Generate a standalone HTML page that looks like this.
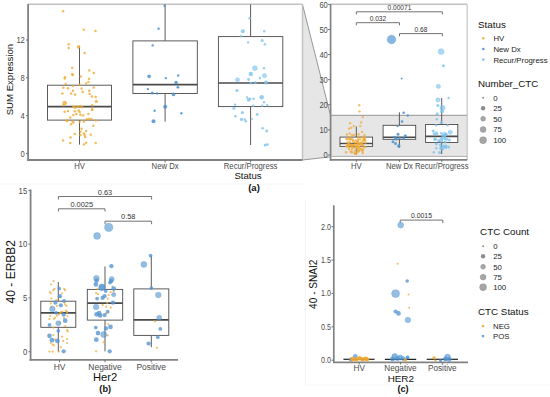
<!DOCTYPE html>
<html><head><meta charset="utf-8"><style>
html,body{margin:0;padding:0;background:#fff;}
body{width:550px;height:397px;overflow:hidden;}
svg{display:block;font-family:"Liberation Sans", sans-serif;}
</style></head><body>
<svg width="550" height="397" viewBox="0 0 550 397">
<rect width="550" height="397" fill="#fff"/>
<line x1="0" y1="184" x2="306" y2="184" stroke="#f6f6f6" stroke-width="1" />
<line x1="305.5" y1="199" x2="305.5" y2="385" stroke="#f4f4f4" stroke-width="1" />
<line x1="305.5" y1="385" x2="550" y2="385" stroke="#f6f6f6" stroke-width="1" />
<polygon points="302.5,4.5 330.5,115.3 330.5,156.8 302.5,160" fill="#E6E6E6" stroke="none" stroke-width="1"/>
<rect x="330.5" y="115.3" width="136.7" height="41.5" fill="#E6E6E6"/>
<line x1="302.5" y1="4.5" x2="330.5" y2="115.3" stroke="#8c8c8c" stroke-width="0.9" />
<line x1="302.5" y1="160" x2="330.5" y2="156.8" stroke="#8c8c8c" stroke-width="0.9" />
<line x1="330.5" y1="115.3" x2="467.2" y2="115.3" stroke="#8c8c8c" stroke-width="0.9" />
<line x1="28.1" y1="4.3" x2="302.5" y2="4.3" stroke="#c2c2c2" stroke-width="1.6" />
<line x1="330.6" y1="4.3" x2="467.2" y2="4.3" stroke="#c2c2c2" stroke-width="1.6" />
<line x1="302.5" y1="4.5" x2="302.5" y2="160" stroke="#c2c2c2" stroke-width="1.5" />
<line x1="467.2" y1="4.5" x2="467.2" y2="160" stroke="#c4c4c4" stroke-width="1.2" />
<line x1="79.5" y1="46.5" x2="79.5" y2="85.2" stroke="#4a4a4a" stroke-width="0.9" />
<line x1="79.5" y1="120.1" x2="79.5" y2="144.6" stroke="#4a4a4a" stroke-width="0.9" />
<rect x="47.5" y="85.2" width="64" height="34.89999999999999" fill="#fff" stroke="#4a4a4a" stroke-width="0.9"/>
<line x1="47.5" y1="106.7" x2="111.5" y2="106.7" stroke="#4a4a4a" stroke-width="1.7" />
<circle cx="63.1" cy="11.3" r="1.25" fill="#EFAA35" fill-opacity="0.8"/>
<circle cx="83.7" cy="29.8" r="1.25" fill="#EFAA35" fill-opacity="0.8"/>
<circle cx="95.5" cy="31" r="1.25" fill="#EFAA35" fill-opacity="0.8"/>
<circle cx="68.7" cy="44.3" r="1.25" fill="#EFAA35" fill-opacity="0.8"/>
<circle cx="68.7" cy="48.1" r="1.25" fill="#EFAA35" fill-opacity="0.8"/>
<circle cx="78.6" cy="46.9" r="1.8" fill="#EFAA35" fill-opacity="0.8"/>
<circle cx="84.6" cy="53" r="1.25" fill="#EFAA35" fill-opacity="0.8"/>
<circle cx="72.2" cy="67.7" r="1.25" fill="#EFAA35" fill-opacity="0.8"/>
<circle cx="89.3" cy="70.4" r="1.25" fill="#EFAA35" fill-opacity="0.8"/>
<circle cx="93.7" cy="73" r="1.25" fill="#EFAA35" fill-opacity="0.8"/>
<circle cx="72.2" cy="74.2" r="1.25" fill="#EFAA35" fill-opacity="0.8"/>
<circle cx="72.8" cy="75" r="1.25" fill="#EFAA35" fill-opacity="0.8"/>
<circle cx="80.8" cy="76.6" r="1.25" fill="#EFAA35" fill-opacity="0.8"/>
<circle cx="65" cy="77.2" r="1.25" fill="#EFAA35" fill-opacity="0.8"/>
<circle cx="64.7" cy="78.4" r="1.25" fill="#EFAA35" fill-opacity="0.8"/>
<circle cx="89" cy="78.7" r="1.25" fill="#EFAA35" fill-opacity="0.8"/>
<circle cx="88.4" cy="82" r="1.25" fill="#EFAA35" fill-opacity="0.8"/>
<circle cx="86.1" cy="83.6" r="1.25" fill="#EFAA35" fill-opacity="0.8"/>
<circle cx="65.7" cy="84" r="1.25" fill="#EFAA35" fill-opacity="0.8"/>
<circle cx="79.6" cy="84.8" r="1.25" fill="#EFAA35" fill-opacity="0.8"/>
<circle cx="63.4" cy="87.8" r="1.25" fill="#EFAA35" fill-opacity="0.8"/>
<circle cx="68" cy="88.3" r="1.25" fill="#EFAA35" fill-opacity="0.8"/>
<circle cx="73" cy="86" r="1.25" fill="#EFAA35" fill-opacity="0.8"/>
<circle cx="81.6" cy="88.6" r="1.25" fill="#EFAA35" fill-opacity="0.8"/>
<circle cx="93.7" cy="87.5" r="1.25" fill="#EFAA35" fill-opacity="0.8"/>
<circle cx="73" cy="90.8" r="1.25" fill="#EFAA35" fill-opacity="0.8"/>
<circle cx="89.2" cy="90.8" r="1.25" fill="#EFAA35" fill-opacity="0.8"/>
<circle cx="82.7" cy="92" r="1.25" fill="#EFAA35" fill-opacity="0.8"/>
<circle cx="62.4" cy="93.6" r="1.25" fill="#EFAA35" fill-opacity="0.8"/>
<circle cx="71" cy="93.6" r="1.25" fill="#EFAA35" fill-opacity="0.8"/>
<circle cx="75.1" cy="94.6" r="1.25" fill="#EFAA35" fill-opacity="0.8"/>
<circle cx="89.6" cy="93.9" r="1.25" fill="#EFAA35" fill-opacity="0.8"/>
<circle cx="91.9" cy="96.4" r="1.25" fill="#EFAA35" fill-opacity="0.8"/>
<circle cx="95.7" cy="96.9" r="1.25" fill="#EFAA35" fill-opacity="0.8"/>
<circle cx="96.3" cy="101.4" r="1.6" fill="#EFAA35" fill-opacity="0.8"/>
<circle cx="64.7" cy="103" r="2.3" fill="#EFAA35" fill-opacity="0.8"/>
<circle cx="63.4" cy="105.2" r="1.25" fill="#EFAA35" fill-opacity="0.8"/>
<circle cx="92.2" cy="105.2" r="1.25" fill="#EFAA35" fill-opacity="0.8"/>
<circle cx="74.8" cy="107.5" r="1.25" fill="#EFAA35" fill-opacity="0.8"/>
<circle cx="80.1" cy="106" r="1.25" fill="#EFAA35" fill-opacity="0.8"/>
<circle cx="82.4" cy="107.2" r="1.25" fill="#EFAA35" fill-opacity="0.8"/>
<circle cx="77.8" cy="106.7" r="1.25" fill="#EFAA35" fill-opacity="0.8"/>
<circle cx="92.2" cy="109.5" r="1.25" fill="#EFAA35" fill-opacity="0.8"/>
<circle cx="73.3" cy="106.8" r="1.25" fill="#EFAA35" fill-opacity="0.8"/>
<circle cx="75.6" cy="107.6" r="1.25" fill="#EFAA35" fill-opacity="0.8"/>
<circle cx="64.7" cy="111.8" r="1.25" fill="#EFAA35" fill-opacity="0.8"/>
<circle cx="68" cy="110.9" r="1.25" fill="#EFAA35" fill-opacity="0.8"/>
<circle cx="74.8" cy="111.3" r="1.25" fill="#EFAA35" fill-opacity="0.8"/>
<circle cx="78.6" cy="110.6" r="1.25" fill="#EFAA35" fill-opacity="0.8"/>
<circle cx="79.6" cy="112.1" r="1.25" fill="#EFAA35" fill-opacity="0.8"/>
<circle cx="92.2" cy="109.8" r="1.25" fill="#EFAA35" fill-opacity="0.8"/>
<circle cx="76.3" cy="113.9" r="1.25" fill="#EFAA35" fill-opacity="0.8"/>
<circle cx="73.3" cy="115.1" r="1.25" fill="#EFAA35" fill-opacity="0.8"/>
<circle cx="80.5" cy="114.8" r="1.25" fill="#EFAA35" fill-opacity="0.8"/>
<circle cx="83.1" cy="115.6" r="1.25" fill="#EFAA35" fill-opacity="0.8"/>
<circle cx="88.4" cy="113.9" r="1.25" fill="#EFAA35" fill-opacity="0.8"/>
<circle cx="70.3" cy="117.4" r="1.25" fill="#EFAA35" fill-opacity="0.8"/>
<circle cx="66.9" cy="120.7" r="1.6" fill="#EFAA35" fill-opacity="0.8"/>
<circle cx="72.5" cy="121.6" r="1.25" fill="#EFAA35" fill-opacity="0.8"/>
<circle cx="73.3" cy="122.4" r="1.25" fill="#EFAA35" fill-opacity="0.8"/>
<circle cx="79.6" cy="121.9" r="1.25" fill="#EFAA35" fill-opacity="0.8"/>
<circle cx="83.9" cy="121.6" r="1.25" fill="#EFAA35" fill-opacity="0.8"/>
<circle cx="86.9" cy="119.2" r="1.25" fill="#EFAA35" fill-opacity="0.8"/>
<circle cx="89.2" cy="118.9" r="1.25" fill="#EFAA35" fill-opacity="0.8"/>
<circle cx="91.4" cy="118.9" r="1.25" fill="#EFAA35" fill-opacity="0.8"/>
<circle cx="96" cy="120.4" r="1.25" fill="#EFAA35" fill-opacity="0.8"/>
<circle cx="71" cy="124.2" r="1.25" fill="#EFAA35" fill-opacity="0.8"/>
<circle cx="93.3" cy="125.7" r="1.25" fill="#EFAA35" fill-opacity="0.8"/>
<circle cx="81.6" cy="128.7" r="1.25" fill="#EFAA35" fill-opacity="0.8"/>
<circle cx="80.5" cy="131.8" r="1.25" fill="#EFAA35" fill-opacity="0.8"/>
<circle cx="86.1" cy="131" r="1.25" fill="#EFAA35" fill-opacity="0.8"/>
<circle cx="74.8" cy="134" r="1.25" fill="#EFAA35" fill-opacity="0.8"/>
<circle cx="83.9" cy="133.6" r="1.25" fill="#EFAA35" fill-opacity="0.8"/>
<circle cx="84.6" cy="135.1" r="1.25" fill="#EFAA35" fill-opacity="0.8"/>
<circle cx="90.7" cy="134.8" r="1.25" fill="#EFAA35" fill-opacity="0.8"/>
<circle cx="80.5" cy="135.1" r="1.25" fill="#EFAA35" fill-opacity="0.8"/>
<circle cx="85.1" cy="137.1" r="1.25" fill="#EFAA35" fill-opacity="0.8"/>
<circle cx="70.6" cy="137.5" r="1.25" fill="#EFAA35" fill-opacity="0.8"/>
<circle cx="63" cy="140.5" r="1.25" fill="#EFAA35" fill-opacity="0.8"/>
<circle cx="70.3" cy="143.1" r="1.25" fill="#EFAA35" fill-opacity="0.8"/>
<circle cx="83.9" cy="144.6" r="1.25" fill="#EFAA35" fill-opacity="0.8"/>
<circle cx="86.1" cy="142.7" r="1.25" fill="#EFAA35" fill-opacity="0.8"/>
<circle cx="95.7" cy="143.1" r="1.25" fill="#EFAA35" fill-opacity="0.8"/>
<line x1="165.1" y1="4.5" x2="165.1" y2="40.9" stroke="#4a4a4a" stroke-width="0.9" />
<line x1="165.1" y1="93.5" x2="165.1" y2="121.7" stroke="#4a4a4a" stroke-width="0.9" />
<rect x="132.89999999999998" y="40.9" width="64.4" height="52.6" fill="#fff" stroke="#4a4a4a" stroke-width="0.9"/>
<line x1="132.89999999999998" y1="84.7" x2="197.3" y2="84.7" stroke="#4a4a4a" stroke-width="1.7" />
<circle cx="164.6" cy="5.7" r="1.2" fill="#4A92D0" fill-opacity="0.85"/>
<circle cx="158.6" cy="28.7" r="1.2" fill="#4A92D0" fill-opacity="0.85"/>
<circle cx="152.7" cy="45.4" r="1.2" fill="#4A92D0" fill-opacity="0.85"/>
<circle cx="149.1" cy="76.4" r="1.8" fill="#4A92D0" fill-opacity="0.85"/>
<circle cx="165.9" cy="78.1" r="1.2" fill="#4A92D0" fill-opacity="0.85"/>
<circle cx="178.2" cy="75.5" r="1.2" fill="#4A92D0" fill-opacity="0.85"/>
<circle cx="176.1" cy="82.6" r="1.8" fill="#4A92D0" fill-opacity="0.85"/>
<circle cx="177.9" cy="87.3" r="1.4" fill="#4A92D0" fill-opacity="0.85"/>
<circle cx="147.9" cy="89.1" r="1.2" fill="#4A92D0" fill-opacity="0.85"/>
<circle cx="152.3" cy="93.1" r="1.5" fill="#4A92D0" fill-opacity="0.85"/>
<circle cx="157.1" cy="93.5" r="1.2" fill="#4A92D0" fill-opacity="0.85"/>
<circle cx="173.5" cy="94.4" r="1.8" fill="#4A92D0" fill-opacity="0.85"/>
<circle cx="165.2" cy="106.7" r="2" fill="#4A92D0" fill-opacity="0.85"/>
<circle cx="154.6" cy="110.7" r="1.2" fill="#4A92D0" fill-opacity="0.85"/>
<circle cx="181.4" cy="113.2" r="1.2" fill="#4A92D0" fill-opacity="0.85"/>
<circle cx="153.5" cy="121.3" r="2" fill="#4A92D0" fill-opacity="0.85"/>
<line x1="250.6" y1="4.5" x2="250.6" y2="36.6" stroke="#4a4a4a" stroke-width="0.9" />
<line x1="250.6" y1="106.6" x2="250.6" y2="145" stroke="#4a4a4a" stroke-width="0.9" />
<rect x="218.39999999999998" y="36.6" width="64.4" height="70.0" fill="#fff" stroke="#4a4a4a" stroke-width="0.9"/>
<line x1="218.39999999999998" y1="83" x2="282.8" y2="83" stroke="#4a4a4a" stroke-width="1.7" />
<circle cx="249.6" cy="18.2" r="1.2" fill="#79C2EE" fill-opacity="0.8"/>
<circle cx="242.8" cy="31.3" r="2" fill="#79C2EE" fill-opacity="0.8"/>
<circle cx="264.2" cy="31.3" r="1.2" fill="#79C2EE" fill-opacity="0.8"/>
<circle cx="241" cy="36.3" r="1.2" fill="#79C2EE" fill-opacity="0.8"/>
<circle cx="248.1" cy="42.4" r="1.2" fill="#79C2EE" fill-opacity="0.8"/>
<circle cx="262.2" cy="40.4" r="1.5" fill="#79C2EE" fill-opacity="0.8"/>
<circle cx="264.8" cy="44.3" r="1.2" fill="#79C2EE" fill-opacity="0.8"/>
<circle cx="254.9" cy="68.2" r="2.4499999999999997" fill="#79C2EE" fill-opacity="0.624" stroke="#79C2EE" stroke-opacity="0.440" stroke-width="0.8"/>
<circle cx="264" cy="68.2" r="1.2" fill="#79C2EE" fill-opacity="0.8"/>
<circle cx="250.8" cy="73.9" r="2.2" fill="#79C2EE" fill-opacity="0.8"/>
<circle cx="264.5" cy="75.7" r="2.15" fill="#79C2EE" fill-opacity="0.624" stroke="#79C2EE" stroke-opacity="0.440" stroke-width="0.8"/>
<circle cx="259.9" cy="78" r="1.2" fill="#79C2EE" fill-opacity="0.8"/>
<circle cx="237.5" cy="79.8" r="2.15" fill="#79C2EE" fill-opacity="0.624" stroke="#79C2EE" stroke-opacity="0.440" stroke-width="0.8"/>
<circle cx="248.6" cy="79.5" r="1.4" fill="#79C2EE" fill-opacity="0.8"/>
<circle cx="250.8" cy="83.3" r="1.2" fill="#79C2EE" fill-opacity="0.8"/>
<circle cx="255.4" cy="82.5" r="1.5" fill="#79C2EE" fill-opacity="0.8"/>
<circle cx="266" cy="82.5" r="2" fill="#79C2EE" fill-opacity="0.8"/>
<circle cx="236.9" cy="90.5" r="1.6" fill="#79C2EE" fill-opacity="0.8"/>
<circle cx="247.1" cy="97.4" r="1.2" fill="#79C2EE" fill-opacity="0.8"/>
<circle cx="248.6" cy="99.9" r="1.8" fill="#79C2EE" fill-opacity="0.8"/>
<circle cx="250.1" cy="98.7" r="1.2" fill="#79C2EE" fill-opacity="0.8"/>
<circle cx="253.6" cy="98.7" r="1.2" fill="#79C2EE" fill-opacity="0.8"/>
<circle cx="261.7" cy="97.2" r="2.2" fill="#79C2EE" fill-opacity="0.8"/>
<circle cx="264" cy="102.2" r="1.2" fill="#79C2EE" fill-opacity="0.8"/>
<circle cx="235" cy="104.8" r="1.2" fill="#79C2EE" fill-opacity="0.8"/>
<circle cx="233.9" cy="108.2" r="1.5" fill="#79C2EE" fill-opacity="0.8"/>
<circle cx="253.1" cy="105.7" r="1.2" fill="#79C2EE" fill-opacity="0.8"/>
<circle cx="262.2" cy="105.7" r="1.2" fill="#79C2EE" fill-opacity="0.8"/>
<circle cx="267.2" cy="105.2" r="1.2" fill="#79C2EE" fill-opacity="0.8"/>
<circle cx="242.5" cy="112.4" r="1.5" fill="#79C2EE" fill-opacity="0.8"/>
<circle cx="235.4" cy="116.2" r="1.3" fill="#79C2EE" fill-opacity="0.8"/>
<circle cx="257.2" cy="114.5" r="1.4" fill="#79C2EE" fill-opacity="0.8"/>
<circle cx="241.5" cy="119.4" r="1.6" fill="#79C2EE" fill-opacity="0.8"/>
<circle cx="244.8" cy="119.4" r="1.2" fill="#79C2EE" fill-opacity="0.8"/>
<circle cx="245.6" cy="121.2" r="1.2" fill="#79C2EE" fill-opacity="0.8"/>
<circle cx="252.1" cy="118.9" r="1" fill="#79C2EE" fill-opacity="0.8"/>
<circle cx="262.6" cy="128.3" r="1.2" fill="#79C2EE" fill-opacity="0.8"/>
<circle cx="266.7" cy="131" r="1.4" fill="#79C2EE" fill-opacity="0.8"/>
<circle cx="265.2" cy="145.1" r="1.5" fill="#79C2EE" fill-opacity="0.8"/>
<circle cx="267.5" cy="144.6" r="1.3" fill="#79C2EE" fill-opacity="0.8"/>
<line x1="28.1" y1="4" x2="28.1" y2="160.8" stroke="#828282" stroke-width="1.8" />
<line x1="27.2" y1="160" x2="302.5" y2="160" stroke="#828282" stroke-width="1.8" />
<line x1="26" y1="153.4" x2="28.1" y2="153.4" stroke="#737373" stroke-width="1" />
<text transform="translate(24.8 156.5) scale(0.88 1)" font-size="8.6" fill="#4a4a4a" text-anchor="end">0</text>
<line x1="26" y1="115.6" x2="28.1" y2="115.6" stroke="#737373" stroke-width="1" />
<text transform="translate(24.8 118.69999999999999) scale(0.88 1)" font-size="8.6" fill="#4a4a4a" text-anchor="end">4</text>
<line x1="26" y1="77.8" x2="28.1" y2="77.8" stroke="#737373" stroke-width="1" />
<text transform="translate(24.8 80.89999999999999) scale(0.88 1)" font-size="8.6" fill="#4a4a4a" text-anchor="end">8</text>
<line x1="26" y1="40" x2="28.1" y2="40" stroke="#737373" stroke-width="1" />
<text transform="translate(24.8 43.1) scale(0.88 1)" font-size="8.6" fill="#4a4a4a" text-anchor="end">12</text>
<line x1="79.5" y1="160" x2="79.5" y2="162.5" stroke="#737373" stroke-width="1" />
<text transform="translate(79.5 169.2) scale(0.92 1)" font-size="8.4" fill="#4a4a4a" text-anchor="middle">HV</text>
<line x1="165.1" y1="160" x2="165.1" y2="162.5" stroke="#737373" stroke-width="1" />
<text transform="translate(165.1 169.2) scale(0.92 1)" font-size="8.4" fill="#4a4a4a" text-anchor="middle">New Dx</text>
<line x1="250.6" y1="160" x2="250.6" y2="162.5" stroke="#737373" stroke-width="1" />
<text transform="translate(250.6 169.2) scale(0.92 1)" font-size="8.4" fill="#4a4a4a" text-anchor="middle">Recur/Progress</text>
<text x="12.9" y="79.6" font-size="9.6" fill="#111" text-anchor="middle" font-weight="normal" transform="rotate(-90 12.9 79.6)">SUM Expression</text>
<text x="248" y="179.1" font-size="9.6" fill="#111" text-anchor="middle" font-weight="normal">Status</text>
<text x="254" y="191" font-size="9.5" fill="#111" text-anchor="middle" font-weight="bold">(a)</text>
<line x1="356.3" y1="126.5" x2="356.3" y2="137.1" stroke="#4a4a4a" stroke-width="0.9" />
<line x1="356.3" y1="146.4" x2="356.3" y2="154.5" stroke="#4a4a4a" stroke-width="0.9" />
<rect x="340.0" y="137.1" width="32.6" height="9.300000000000011" fill="#fff" stroke="#4a4a4a" stroke-width="0.9"/>
<line x1="340.0" y1="143.4" x2="372.6" y2="143.4" stroke="#4a4a4a" stroke-width="1.5" />
<circle cx="359.2" cy="105.2" r="1.2" fill="#EFAA35" fill-opacity="0.75"/>
<circle cx="359.5" cy="111.4" r="1.2" fill="#EFAA35" fill-opacity="0.75"/>
<circle cx="362.8" cy="117.1" r="1.2" fill="#EFAA35" fill-opacity="0.75"/>
<circle cx="350" cy="123.2" r="1.2" fill="#EFAA35" fill-opacity="0.75"/>
<circle cx="353.8" cy="126.1" r="1.2" fill="#EFAA35" fill-opacity="0.75"/>
<circle cx="361.1" cy="122.5" r="1.2" fill="#EFAA35" fill-opacity="0.75"/>
<circle cx="360.3" cy="126.1" r="1.2" fill="#EFAA35" fill-opacity="0.75"/>
<circle cx="348.9" cy="128.6" r="1.2" fill="#EFAA35" fill-opacity="0.75"/>
<circle cx="351.3" cy="127.8" r="1.2" fill="#EFAA35" fill-opacity="0.75"/>
<circle cx="349.7" cy="133.5" r="1.2" fill="#EFAA35" fill-opacity="0.75"/>
<circle cx="352.1" cy="135.2" r="1.2" fill="#EFAA35" fill-opacity="0.75"/>
<circle cx="358.7" cy="134.3" r="1.2" fill="#EFAA35" fill-opacity="0.75"/>
<circle cx="362" cy="131.9" r="1.2" fill="#EFAA35" fill-opacity="0.75"/>
<circle cx="364.4" cy="135.2" r="1.2" fill="#EFAA35" fill-opacity="0.75"/>
<circle cx="350.64031022829187" cy="139.3404981155504" r="1.2" fill="#EFAA35" fill-opacity="0.75"/>
<circle cx="357.7764407526258" cy="142.3133668894775" r="1.2" fill="#EFAA35" fill-opacity="0.75"/>
<circle cx="358.20154593010705" cy="144.17146614536537" r="1.2" fill="#EFAA35" fill-opacity="0.75"/>
<circle cx="362.330647100881" cy="143.79322222722004" r="1.2" fill="#EFAA35" fill-opacity="0.75"/>
<circle cx="351.05740327939617" cy="144.9584896485683" r="1.2" fill="#EFAA35" fill-opacity="0.75"/>
<circle cx="355.1701383966877" cy="153.5" r="1.2" fill="#EFAA35" fill-opacity="0.75"/>
<circle cx="362.31099829985055" cy="137.14643637947282" r="1.2" fill="#EFAA35" fill-opacity="0.75"/>
<circle cx="348.9370202684587" cy="144.45100268351842" r="1.2" fill="#EFAA35" fill-opacity="0.75"/>
<circle cx="358.37978283656116" cy="147.19979524600794" r="1.2" fill="#EFAA35" fill-opacity="0.75"/>
<circle cx="360.4544111959291" cy="139.4618599868359" r="1.2" fill="#EFAA35" fill-opacity="0.75"/>
<circle cx="359.09252376970704" cy="150.4774572950503" r="1.2" fill="#EFAA35" fill-opacity="0.75"/>
<circle cx="357.5264418671607" cy="146.4691331867224" r="1.2" fill="#EFAA35" fill-opacity="0.75"/>
<circle cx="351.8747193605564" cy="152.3437881351424" r="1.2" fill="#EFAA35" fill-opacity="0.75"/>
<circle cx="355.2186072289766" cy="145.24538031910637" r="1.2" fill="#EFAA35" fill-opacity="0.75"/>
<circle cx="360.01706651928316" cy="148.65479050992758" r="1.2" fill="#EFAA35" fill-opacity="0.75"/>
<circle cx="363.9614240178856" cy="138.5864579601656" r="1.2" fill="#EFAA35" fill-opacity="0.75"/>
<circle cx="353.7017863780145" cy="145.03460270801966" r="1.2" fill="#EFAA35" fill-opacity="0.75"/>
<circle cx="364.24394107323815" cy="138.8671572992283" r="1.2" fill="#EFAA35" fill-opacity="0.75"/>
<circle cx="363.1378998765918" cy="145.49086613138536" r="1.2" fill="#EFAA35" fill-opacity="0.75"/>
<circle cx="350.23124535404617" cy="144.8983504772857" r="1.2" fill="#EFAA35" fill-opacity="0.75"/>
<circle cx="364.82686270851497" cy="137.6845659143442" r="1.2" fill="#EFAA35" fill-opacity="0.75"/>
<circle cx="351.87001086929735" cy="145.9663168763218" r="1.2" fill="#EFAA35" fill-opacity="0.75"/>
<circle cx="355.89123818466663" cy="140.34673598991228" r="1.2" fill="#EFAA35" fill-opacity="0.75"/>
<circle cx="357.4089450944046" cy="146.24961895693966" r="1.2" fill="#EFAA35" fill-opacity="0.75"/>
<circle cx="357.3929099629189" cy="149.11451949980292" r="1.2" fill="#EFAA35" fill-opacity="0.75"/>
<circle cx="364.1144392234003" cy="139.64307070388864" r="1.2" fill="#EFAA35" fill-opacity="0.75"/>
<circle cx="362.69981104473675" cy="150.2017294035386" r="1.2" fill="#EFAA35" fill-opacity="0.75"/>
<circle cx="349.18044262843586" cy="143.1201842234085" r="1.2" fill="#EFAA35" fill-opacity="0.75"/>
<circle cx="362.7824318957672" cy="153.01726707507305" r="1.2" fill="#EFAA35" fill-opacity="0.75"/>
<circle cx="357.0975963177493" cy="141.34958086695642" r="1.2" fill="#EFAA35" fill-opacity="0.75"/>
<circle cx="359.9194318933969" cy="145.55418192510527" r="1.2" fill="#EFAA35" fill-opacity="0.75"/>
<circle cx="357.18388087085003" cy="151.74193409099746" r="1.2" fill="#EFAA35" fill-opacity="0.75"/>
<circle cx="351.556670508731" cy="151.6343472464852" r="1.2" fill="#EFAA35" fill-opacity="0.75"/>
<circle cx="365.30121729097084" cy="146.92701985412276" r="1.2" fill="#EFAA35" fill-opacity="0.75"/>
<circle cx="347.7261028156397" cy="144.9459918682271" r="1.2" fill="#EFAA35" fill-opacity="0.75"/>
<circle cx="348.93992480182976" cy="139.10569144314326" r="1.2" fill="#EFAA35" fill-opacity="0.75"/>
<circle cx="351.7308793129717" cy="144.57642723357642" r="1.2" fill="#EFAA35" fill-opacity="0.75"/>
<circle cx="346.8617061920261" cy="134.42577336768417" r="1.2" fill="#EFAA35" fill-opacity="0.75"/>
<circle cx="357.9833843063703" cy="150.38078092569273" r="1.2" fill="#EFAA35" fill-opacity="0.75"/>
<circle cx="352.4536058473706" cy="145.4962504337832" r="1.2" fill="#EFAA35" fill-opacity="0.75"/>
<circle cx="363.1776534913235" cy="148.80036648244928" r="1.2" fill="#EFAA35" fill-opacity="0.75"/>
<circle cx="365.4709244348276" cy="142.85190788712012" r="1.2" fill="#EFAA35" fill-opacity="0.75"/>
<circle cx="352.0385660427886" cy="148.8914103751083" r="1.2" fill="#EFAA35" fill-opacity="0.75"/>
<circle cx="346.6118663624187" cy="146.33168859804258" r="1.2" fill="#EFAA35" fill-opacity="0.75"/>
<circle cx="349.84900470035416" cy="138.32602260512488" r="1.2" fill="#EFAA35" fill-opacity="0.75"/>
<circle cx="349.04588032476454" cy="146.87840817237176" r="1.2" fill="#EFAA35" fill-opacity="0.75"/>
<circle cx="346.82749858206347" cy="146.13356340659303" r="1.2" fill="#EFAA35" fill-opacity="0.75"/>
<circle cx="364.69385881496487" cy="140.61592577302136" r="1.2" fill="#EFAA35" fill-opacity="0.75"/>
<circle cx="363.4848630078382" cy="139.9040385351785" r="1.2" fill="#EFAA35" fill-opacity="0.75"/>
<circle cx="356.141423199555" cy="146.97207919152714" r="1.2" fill="#EFAA35" fill-opacity="0.75"/>
<circle cx="358.5558300085607" cy="138.74898568906752" r="1.2" fill="#EFAA35" fill-opacity="0.75"/>
<circle cx="358.0924596411826" cy="140.24275936678066" r="1.2" fill="#EFAA35" fill-opacity="0.75"/>
<circle cx="364.3421144807673" cy="138.72443151932498" r="1.2" fill="#EFAA35" fill-opacity="0.75"/>
<circle cx="360.0460694168107" cy="143.2890177881478" r="1.2" fill="#EFAA35" fill-opacity="0.75"/>
<circle cx="350.6338945795633" cy="139.58208177648808" r="1.2" fill="#EFAA35" fill-opacity="0.75"/>
<circle cx="356.1619822189835" cy="153.5" r="1.2" fill="#EFAA35" fill-opacity="0.75"/>
<circle cx="356.6943941198938" cy="148.1492968491355" r="1.2" fill="#EFAA35" fill-opacity="0.75"/>
<circle cx="357.3093216690428" cy="143.83527999716208" r="1.2" fill="#EFAA35" fill-opacity="0.75"/>
<circle cx="346.3910313609397" cy="138.7470949740011" r="1.2" fill="#EFAA35" fill-opacity="0.75"/>
<circle cx="347.1715699572406" cy="139.26721165349844" r="1.2" fill="#EFAA35" fill-opacity="0.75"/>
<circle cx="358.2331516257136" cy="136.8655386457602" r="1.2" fill="#EFAA35" fill-opacity="0.75"/>
<circle cx="352.87525116930044" cy="144.9283434155348" r="1.2" fill="#EFAA35" fill-opacity="0.75"/>
<circle cx="359.78552986263503" cy="143.42840666408827" r="1.2" fill="#EFAA35" fill-opacity="0.75"/>
<circle cx="347.18124767109305" cy="142.54953774782038" r="1.2" fill="#EFAA35" fill-opacity="0.75"/>
<circle cx="359.1823960350039" cy="146.8316908472863" r="1.2" fill="#EFAA35" fill-opacity="0.75"/>
<circle cx="354.8980865279094" cy="142.71794601088152" r="1.2" fill="#EFAA35" fill-opacity="0.75"/>
<circle cx="357.5571015754965" cy="141.67668439636952" r="1.2" fill="#EFAA35" fill-opacity="0.75"/>
<circle cx="352.09707789333976" cy="147.373139219947" r="1.2" fill="#EFAA35" fill-opacity="0.75"/>
<circle cx="353.1985025179006" cy="140.36234353852154" r="1.2" fill="#EFAA35" fill-opacity="0.75"/>
<circle cx="353.3546266559139" cy="141.3496914986816" r="1.2" fill="#EFAA35" fill-opacity="0.75"/>
<circle cx="361.05933154266035" cy="149.2571044007581" r="1.2" fill="#EFAA35" fill-opacity="0.75"/>
<circle cx="360.33587704273094" cy="144.48321469762615" r="1.2" fill="#EFAA35" fill-opacity="0.75"/>
<circle cx="352.0453255604968" cy="144.8944405536121" r="1.2" fill="#EFAA35" fill-opacity="0.75"/>
<circle cx="350.65455594950794" cy="151.5010160949565" r="1.2" fill="#EFAA35" fill-opacity="0.75"/>
<circle cx="349.65418964789984" cy="137.1044672656877" r="1.2" fill="#EFAA35" fill-opacity="0.75"/>
<circle cx="347.9859130063215" cy="146.25642198322274" r="1.2" fill="#EFAA35" fill-opacity="0.75"/>
<circle cx="352.27833670011466" cy="139.21976706449948" r="1.2" fill="#EFAA35" fill-opacity="0.75"/>
<circle cx="354.54939928494707" cy="150.86857150326097" r="1.2" fill="#EFAA35" fill-opacity="0.75"/>
<circle cx="362.68293628270527" cy="145.48045965100908" r="1.2" fill="#EFAA35" fill-opacity="0.75"/>
<circle cx="358.6795313377037" cy="147.0643771629409" r="1.2" fill="#EFAA35" fill-opacity="0.75"/>
<circle cx="363.25551630246514" cy="140.43727160430905" r="1.2" fill="#EFAA35" fill-opacity="0.75"/>
<circle cx="348.3579268318506" cy="144.47174375075952" r="1.2" fill="#EFAA35" fill-opacity="0.75"/>
<circle cx="356.32773875201366" cy="146.46538052872555" r="1.2" fill="#EFAA35" fill-opacity="0.75"/>
<circle cx="362.3502893910504" cy="151.10164034612876" r="1.2" fill="#EFAA35" fill-opacity="0.75"/>
<circle cx="349.5799331094525" cy="142.0409777464566" r="1.2" fill="#EFAA35" fill-opacity="0.75"/>
<circle cx="358.51777650168475" cy="151.5339237439671" r="1.2" fill="#EFAA35" fill-opacity="0.75"/>
<circle cx="361.72202790213356" cy="142.16334209310855" r="1.2" fill="#EFAA35" fill-opacity="0.75"/>
<circle cx="351.6928863719758" cy="145.45933426962918" r="1.2" fill="#EFAA35" fill-opacity="0.75"/>
<circle cx="361.4803075274412" cy="142.94953479899252" r="1.2" fill="#EFAA35" fill-opacity="0.75"/>
<circle cx="354.12966106953303" cy="147.61304929108755" r="1.2" fill="#EFAA35" fill-opacity="0.75"/>
<circle cx="354.18553808392943" cy="134.9638636738783" r="1.2" fill="#EFAA35" fill-opacity="0.75"/>
<circle cx="349.041958249298" cy="148.95321907302554" r="1.2" fill="#EFAA35" fill-opacity="0.75"/>
<circle cx="346.09090499437133" cy="152.18375647408823" r="1.2" fill="#EFAA35" fill-opacity="0.75"/>
<circle cx="365.24481627306153" cy="140.26647138505163" r="1.2" fill="#EFAA35" fill-opacity="0.75"/>
<circle cx="354.4698700971752" cy="153.3046544542345" r="1.2" fill="#EFAA35" fill-opacity="0.75"/>
<line x1="399.4" y1="112.3" x2="399.4" y2="125.3" stroke="#4a4a4a" stroke-width="0.9" />
<line x1="399.4" y1="139.3" x2="399.4" y2="147.5" stroke="#4a4a4a" stroke-width="0.9" />
<rect x="383.09999999999997" y="125.3" width="32.6" height="14.000000000000014" fill="#fff" stroke="#4a4a4a" stroke-width="0.9"/>
<line x1="383.09999999999997" y1="137.3" x2="415.7" y2="137.3" stroke="#4a4a4a" stroke-width="1.5" />
<circle cx="391.5" cy="39.5" r="4.25" fill="#4A92D0" fill-opacity="0.663" stroke="#4A92D0" stroke-opacity="0.468" stroke-width="0.8"/>
<circle cx="401.7" cy="78.5" r="1" fill="#4A92D0" fill-opacity="0.85"/>
<circle cx="403.7" cy="112.7" r="1.3" fill="#4A92D0" fill-opacity="0.85"/>
<circle cx="407.8" cy="115.5" r="1.2" fill="#4A92D0" fill-opacity="0.85"/>
<circle cx="402" cy="121.6" r="1.3" fill="#4A92D0" fill-opacity="0.85"/>
<circle cx="397.6" cy="126.1" r="1.2" fill="#4A92D0" fill-opacity="0.85"/>
<circle cx="398" cy="134.3" r="1.5" fill="#4A92D0" fill-opacity="0.85"/>
<circle cx="394.7" cy="137.3" r="1.5" fill="#4A92D0" fill-opacity="0.85"/>
<circle cx="396.3" cy="138.9" r="1.5" fill="#4A92D0" fill-opacity="0.85"/>
<circle cx="399.6" cy="138" r="1.3" fill="#4A92D0" fill-opacity="0.85"/>
<circle cx="403.7" cy="138.4" r="1.5" fill="#4A92D0" fill-opacity="0.85"/>
<circle cx="405.3" cy="135.7" r="1.5" fill="#4A92D0" fill-opacity="0.85"/>
<circle cx="393" cy="141.7" r="1.5" fill="#4A92D0" fill-opacity="0.85"/>
<circle cx="395.5" cy="143.4" r="1.5" fill="#4A92D0" fill-opacity="0.85"/>
<circle cx="398.8" cy="146.1" r="1.8" fill="#4A92D0" fill-opacity="0.85"/>
<line x1="441.7" y1="98" x2="441.7" y2="124.5" stroke="#4a4a4a" stroke-width="0.9" />
<line x1="441.7" y1="142.5" x2="441.7" y2="154" stroke="#4a4a4a" stroke-width="0.9" />
<rect x="425.59999999999997" y="124.5" width="32.2" height="18.0" fill="#fff" stroke="#4a4a4a" stroke-width="0.9"/>
<line x1="425.59999999999997" y1="136.4" x2="457.8" y2="136.4" stroke="#4a4a4a" stroke-width="1.7" />
<circle cx="441.1" cy="51.6" r="2.9499999999999997" fill="#79C2EE" fill-opacity="0.624" stroke="#79C2EE" stroke-opacity="0.440" stroke-width="0.8"/>
<circle cx="443.4" cy="65.7" r="1.5" fill="#79C2EE" fill-opacity="0.8"/>
<circle cx="438.4" cy="86.4" r="2.15" fill="#79C2EE" fill-opacity="0.624" stroke="#79C2EE" stroke-opacity="0.440" stroke-width="0.8"/>
<circle cx="437.9" cy="99.9" r="2.15" fill="#79C2EE" fill-opacity="0.624" stroke="#79C2EE" stroke-opacity="0.440" stroke-width="0.8"/>
<circle cx="448.6" cy="98" r="1.2" fill="#79C2EE" fill-opacity="0.8"/>
<circle cx="442.5" cy="107.8" r="2.65" fill="#79C2EE" fill-opacity="0.624" stroke="#79C2EE" stroke-opacity="0.440" stroke-width="0.8"/>
<circle cx="437.9" cy="105.6" r="1.5" fill="#79C2EE" fill-opacity="0.8"/>
<circle cx="442" cy="111.4" r="2" fill="#79C2EE" fill-opacity="0.8"/>
<circle cx="437.1" cy="113.8" r="1.5" fill="#79C2EE" fill-opacity="0.8"/>
<circle cx="436.8" cy="119.2" r="1.2" fill="#79C2EE" fill-opacity="0.8"/>
<circle cx="441.2" cy="122.5" r="1.5" fill="#79C2EE" fill-opacity="0.8"/>
<circle cx="436.3" cy="125.3" r="1.2" fill="#79C2EE" fill-opacity="0.8"/>
<circle cx="447.7" cy="125.3" r="1.2" fill="#79C2EE" fill-opacity="0.8"/>
<circle cx="436.3" cy="133.5" r="2" fill="#79C2EE" fill-opacity="0.8"/>
<circle cx="444.5" cy="134.3" r="2.15" fill="#79C2EE" fill-opacity="0.624" stroke="#79C2EE" stroke-opacity="0.440" stroke-width="0.8"/>
<circle cx="450.2" cy="132.3" r="2.15" fill="#79C2EE" fill-opacity="0.624" stroke="#79C2EE" stroke-opacity="0.440" stroke-width="0.8"/>
<circle cx="434.6" cy="139.2" r="1.5" fill="#79C2EE" fill-opacity="0.8"/>
<circle cx="438.7" cy="140.8" r="1.5" fill="#79C2EE" fill-opacity="0.8"/>
<circle cx="442" cy="138.4" r="1.5" fill="#79C2EE" fill-opacity="0.8"/>
<circle cx="446.9" cy="139.2" r="1.5" fill="#79C2EE" fill-opacity="0.8"/>
<circle cx="449.4" cy="140" r="1.5" fill="#79C2EE" fill-opacity="0.8"/>
<circle cx="436.3" cy="144.1" r="1.5" fill="#79C2EE" fill-opacity="0.8"/>
<circle cx="440.4" cy="144.9" r="1.5" fill="#79C2EE" fill-opacity="0.8"/>
<circle cx="446.1" cy="145.7" r="1.2" fill="#79C2EE" fill-opacity="0.8"/>
<circle cx="448.5" cy="147" r="1.5" fill="#79C2EE" fill-opacity="0.8"/>
<circle cx="436.3" cy="148.2" r="1.2" fill="#79C2EE" fill-opacity="0.8"/>
<circle cx="446.1" cy="147.7" r="1.2" fill="#79C2EE" fill-opacity="0.8"/>
<circle cx="433.8" cy="152.3" r="1.2" fill="#79C2EE" fill-opacity="0.8"/>
<circle cx="439.5" cy="152.6" r="1.5" fill="#79C2EE" fill-opacity="0.8"/>
<circle cx="441.04759107019635" cy="140.5540820380929" r="2.2" fill="#79C2EE" fill-opacity="0.8"/>
<circle cx="441.0366464119913" cy="148.2311865335107" r="1.5" fill="#79C2EE" fill-opacity="0.8"/>
<circle cx="435.6932068770975" cy="139.30962461508693" r="1.5" fill="#79C2EE" fill-opacity="0.8"/>
<circle cx="433.88246912458436" cy="133.88843282823765" r="1.2" fill="#79C2EE" fill-opacity="0.8"/>
<circle cx="442.7738701715536" cy="149.14989279232472" r="1.2" fill="#79C2EE" fill-opacity="0.8"/>
<circle cx="443.9087301168134" cy="136.3001593879141" r="2.2" fill="#79C2EE" fill-opacity="0.8"/>
<circle cx="445.07845067067683" cy="142.00463031904283" r="1.5" fill="#79C2EE" fill-opacity="0.8"/>
<circle cx="444.4625690303744" cy="147.62424225909942" r="1.2" fill="#79C2EE" fill-opacity="0.8"/>
<circle cx="433.1910221033771" cy="130.94541483274617" r="1.5" fill="#79C2EE" fill-opacity="0.8"/>
<circle cx="443.992361699057" cy="146.2308185701243" r="1.8" fill="#79C2EE" fill-opacity="0.8"/>
<circle cx="440.81062233313315" cy="147.90310534148182" r="1.5" fill="#79C2EE" fill-opacity="0.8"/>
<circle cx="444.80583415838356" cy="138.99410195737659" r="1.2" fill="#79C2EE" fill-opacity="0.8"/>
<circle cx="441.14659763199114" cy="133.23223539126104" r="1.2" fill="#79C2EE" fill-opacity="0.8"/>
<circle cx="446.156192429959" cy="134.1972076424043" r="1.5" fill="#79C2EE" fill-opacity="0.8"/>
<line x1="330.6" y1="4" x2="330.6" y2="160.8" stroke="#828282" stroke-width="1.7" />
<line x1="329.8" y1="159.9" x2="467.2" y2="159.9" stroke="#828282" stroke-width="1.7" />
<line x1="330.5" y1="156.4" x2="467.2" y2="156.4" stroke="#a8a8a8" stroke-width="0.9" />
<line x1="328" y1="155.0" x2="330.5" y2="155.0" stroke="#737373" stroke-width="1" />
<text transform="translate(327.8 158.1) scale(0.88 1)" font-size="8.6" fill="#4a4a4a" text-anchor="end">0</text>
<line x1="328" y1="129.9" x2="330.5" y2="129.9" stroke="#737373" stroke-width="1" />
<text transform="translate(327.8 133.0) scale(0.88 1)" font-size="8.6" fill="#4a4a4a" text-anchor="end">10</text>
<line x1="328" y1="104.80000000000001" x2="330.5" y2="104.80000000000001" stroke="#737373" stroke-width="1" />
<text transform="translate(327.8 107.9) scale(0.88 1)" font-size="8.6" fill="#4a4a4a" text-anchor="end">20</text>
<line x1="328" y1="79.7" x2="330.5" y2="79.7" stroke="#737373" stroke-width="1" />
<text transform="translate(327.8 82.8) scale(0.88 1)" font-size="8.6" fill="#4a4a4a" text-anchor="end">30</text>
<line x1="328" y1="54.60000000000001" x2="330.5" y2="54.60000000000001" stroke="#737373" stroke-width="1" />
<text transform="translate(327.8 57.70000000000001) scale(0.88 1)" font-size="8.6" fill="#4a4a4a" text-anchor="end">40</text>
<line x1="328" y1="29.500000000000014" x2="330.5" y2="29.500000000000014" stroke="#737373" stroke-width="1" />
<text transform="translate(327.8 32.600000000000016) scale(0.88 1)" font-size="8.6" fill="#4a4a4a" text-anchor="end">50</text>
<line x1="328" y1="4.400000000000006" x2="330.5" y2="4.400000000000006" stroke="#737373" stroke-width="1" />
<text transform="translate(327.8 7.500000000000005) scale(0.88 1)" font-size="8.6" fill="#4a4a4a" text-anchor="end">60</text>
<line x1="356.3" y1="159.9" x2="356.3" y2="162" stroke="#737373" stroke-width="1" />
<text transform="translate(356.3 168.9) scale(0.92 1)" font-size="8.4" fill="#4a4a4a" text-anchor="middle">HV</text>
<line x1="399.4" y1="159.9" x2="399.4" y2="162" stroke="#737373" stroke-width="1" />
<text transform="translate(399.4 168.9) scale(0.92 1)" font-size="8.4" fill="#4a4a4a" text-anchor="middle">New Dx</text>
<line x1="441.7" y1="159.9" x2="441.7" y2="162" stroke="#737373" stroke-width="1" />
<text transform="translate(441.7 168.9) scale(0.92 1)" font-size="8.4" fill="#4a4a4a" text-anchor="middle">Recur/Progress</text>
<polyline points="356.4,14.4 356.4,11.8 442.4,11.8 442.4,14.4" fill="none" stroke="#737373" stroke-width="1"/>
<text x="399.4" y="10" font-size="6.6" fill="#333" text-anchor="middle" font-weight="normal">0.00071</text>
<polyline points="356.4,25.3 356.4,22.7 399.5,22.7 399.5,25.3" fill="none" stroke="#737373" stroke-width="1"/>
<text x="377.95" y="20.9" font-size="6.6" fill="#333" text-anchor="middle" font-weight="normal">0.032</text>
<polyline points="399.5,36.2 399.5,33.6 442.4,33.6 442.4,36.2" fill="none" stroke="#737373" stroke-width="1"/>
<text x="420.95" y="31.8" font-size="6.6" fill="#333" text-anchor="middle" font-weight="normal">0.68</text>
<text x="478" y="27.9" font-size="9.8" fill="#111" text-anchor="start" font-weight="normal">Status</text>
<circle cx="483.3" cy="38.3" r="1.3" fill="#EFAA35" fill-opacity="0.9"/>
<text x="493.4" y="41.199999999999996" font-size="7.8" fill="#222" text-anchor="start" font-weight="normal">HV</text>
<circle cx="483.3" cy="49" r="1.3" fill="#4A92D0" fill-opacity="0.9"/>
<text x="493.4" y="51.9" font-size="7.8" fill="#222" text-anchor="start" font-weight="normal">New Dx</text>
<circle cx="483.3" cy="59.6" r="1.3" fill="#79C2EE" fill-opacity="0.9"/>
<text x="493.4" y="62.5" font-size="7.8" fill="#222" text-anchor="start" font-weight="normal">Recur/Progress</text>
<text x="478" y="87.1" font-size="9.8" fill="#111" text-anchor="start" font-weight="normal">Number_CTC</text>
<circle cx="483.1" cy="97.8" r="1.0" fill="#8c8c8c" fill-opacity="1.0"/>
<text x="493.2" y="100.6" font-size="7.8" fill="#222" text-anchor="start" font-weight="normal">0</text>
<circle cx="483.1" cy="108.3" r="2.2" fill="#8c8c8c" fill-opacity="1.0"/>
<text x="493.2" y="111.1" font-size="7.8" fill="#222" text-anchor="start" font-weight="normal">25</text>
<circle cx="483.1" cy="118.8" r="2.4499999999999997" fill="#8c8c8c" fill-opacity="0.780" stroke="#8c8c8c" stroke-opacity="0.550" stroke-width="0.8"/>
<text x="493.2" y="121.6" font-size="7.8" fill="#222" text-anchor="start" font-weight="normal">50</text>
<circle cx="483.1" cy="129.5" r="2.9499999999999997" fill="#8c8c8c" fill-opacity="0.780" stroke="#8c8c8c" stroke-opacity="0.550" stroke-width="0.8"/>
<text x="493.2" y="132.3" font-size="7.8" fill="#222" text-anchor="start" font-weight="normal">75</text>
<circle cx="483.1" cy="140.2" r="3.4499999999999997" fill="#8c8c8c" fill-opacity="0.780" stroke="#8c8c8c" stroke-opacity="0.550" stroke-width="0.8"/>
<text x="493.2" y="143.0" font-size="7.8" fill="#222" text-anchor="start" font-weight="normal">100</text>
<line x1="30.6" y1="189.5" x2="30.6" y2="360.7" stroke="#828282" stroke-width="1.8" />
<line x1="29.7" y1="359.9" x2="178" y2="359.9" stroke="#828282" stroke-width="1.8" />
<line x1="28.5" y1="351.7" x2="30.6" y2="351.7" stroke="#737373" stroke-width="1" />
<text transform="translate(27.2 354.9) scale(0.88 1)" font-size="8.8" fill="#4a4a4a" text-anchor="end">0</text>
<line x1="28.5" y1="297.95" x2="30.6" y2="297.95" stroke="#737373" stroke-width="1" />
<text transform="translate(27.2 301.15) scale(0.88 1)" font-size="8.8" fill="#4a4a4a" text-anchor="end">5</text>
<line x1="28.5" y1="244.2" x2="30.6" y2="244.2" stroke="#737373" stroke-width="1" />
<text transform="translate(27.2 247.39999999999998) scale(0.88 1)" font-size="8.8" fill="#4a4a4a" text-anchor="end">10</text>
<line x1="28.5" y1="190.45" x2="30.6" y2="190.45" stroke="#737373" stroke-width="1" />
<text transform="translate(27.2 193.64999999999998) scale(0.88 1)" font-size="8.8" fill="#4a4a4a" text-anchor="end">15</text>
<line x1="59.5" y1="359.8" x2="59.5" y2="362.3" stroke="#737373" stroke-width="1" />
<text transform="translate(59.5 369.7) scale(0.93 1)" font-size="9.1" fill="#4a4a4a" text-anchor="middle">HV</text>
<line x1="105" y1="359.8" x2="105" y2="362.3" stroke="#737373" stroke-width="1" />
<text transform="translate(105 369.7) scale(0.93 1)" font-size="9.1" fill="#4a4a4a" text-anchor="middle">Negative</text>
<line x1="151.2" y1="359.8" x2="151.2" y2="362.3" stroke="#737373" stroke-width="1" />
<text transform="translate(151.2 369.7) scale(0.93 1)" font-size="9.1" fill="#4a4a4a" text-anchor="middle">Positive</text>
<text x="15.2" y="271.7" font-size="12" fill="#111" text-anchor="middle" font-weight="normal" transform="rotate(-90 15.2 271.7)">40 - ERBB2</text>
<text x="105" y="381.4" font-size="11.2" fill="#111" text-anchor="middle" font-weight="normal">Her2</text>
<text x="105.2" y="392" font-size="9.2" fill="#111" text-anchor="middle" font-weight="bold">(b)</text>
<polyline points="58.4,199.5 58.4,196.5 151.6,196.5 151.6,199.5" fill="none" stroke="#737373" stroke-width="1"/>
<text x="105.0" y="194.6" font-size="7.4" fill="#333" text-anchor="middle" font-weight="normal">0.63</text>
<polyline points="58.4,211.60000000000002 58.4,208.8 105,208.8 105,211.60000000000002" fill="none" stroke="#737373" stroke-width="1"/>
<text x="81.7" y="206.6" font-size="7.4" fill="#333" text-anchor="middle" font-weight="normal">0.0025</text>
<polyline points="105,224.2 105,221.2 151.6,221.2 151.6,224.2" fill="none" stroke="#737373" stroke-width="1"/>
<text x="128.3" y="219.2" font-size="7.4" fill="#333" text-anchor="middle" font-weight="normal">0.58</text>
<line x1="58.3" y1="282" x2="58.3" y2="301.2" stroke="#4a4a4a" stroke-width="0.9" />
<line x1="58.3" y1="327.3" x2="58.3" y2="351.6" stroke="#4a4a4a" stroke-width="0.9" />
<rect x="40.8" y="301.2" width="35.0" height="26.100000000000023" fill="#fff" stroke="#4a4a4a" stroke-width="0.9"/>
<line x1="40.8" y1="312.9" x2="75.8" y2="312.9" stroke="#4a4a4a" stroke-width="1.7" />
<line x1="105" y1="266.5" x2="105" y2="289.4" stroke="#4a4a4a" stroke-width="0.9" />
<line x1="105" y1="320.1" x2="105" y2="351.4" stroke="#4a4a4a" stroke-width="0.9" />
<rect x="87.3" y="289.4" width="35.4" height="30.700000000000045" fill="#fff" stroke="#4a4a4a" stroke-width="0.9"/>
<line x1="87.3" y1="303.2" x2="122.7" y2="303.2" stroke="#4a4a4a" stroke-width="1.7" />
<line x1="151.3" y1="255.6" x2="151.3" y2="288.9" stroke="#4a4a4a" stroke-width="0.9" />
<line x1="151.3" y1="335.4" x2="151.3" y2="347.2" stroke="#4a4a4a" stroke-width="0.9" />
<rect x="133.8" y="288.9" width="35.0" height="46.5" fill="#fff" stroke="#4a4a4a" stroke-width="0.9"/>
<line x1="133.8" y1="319.8" x2="168.8" y2="319.8" stroke="#4a4a4a" stroke-width="1.7" />
<circle cx="53.6" cy="281.1" r="1.1" fill="#EFAA35" fill-opacity="0.75"/>
<circle cx="51.1" cy="284.5" r="1.1" fill="#EFAA35" fill-opacity="0.75"/>
<circle cx="54.5" cy="288.9" r="1.1" fill="#EFAA35" fill-opacity="0.75"/>
<circle cx="53.3" cy="290.2" r="1.1" fill="#EFAA35" fill-opacity="0.75"/>
<circle cx="64.2" cy="288.9" r="1.1" fill="#EFAA35" fill-opacity="0.75"/>
<circle cx="65" cy="290.2" r="1.1" fill="#EFAA35" fill-opacity="0.75"/>
<circle cx="49.9" cy="292" r="1.1" fill="#EFAA35" fill-opacity="0.75"/>
<circle cx="50.7" cy="293.3" r="1.1" fill="#EFAA35" fill-opacity="0.75"/>
<circle cx="62.1" cy="293.3" r="1.1" fill="#EFAA35" fill-opacity="0.75"/>
<circle cx="60.2" cy="297.1" r="1.1" fill="#EFAA35" fill-opacity="0.75"/>
<circle cx="51.4" cy="298.3" r="1.1" fill="#EFAA35" fill-opacity="0.75"/>
<circle cx="56.4" cy="300.2" r="1.1" fill="#EFAA35" fill-opacity="0.75"/>
<circle cx="64.6" cy="302.7" r="1.1" fill="#EFAA35" fill-opacity="0.75"/>
<circle cx="65.2" cy="304.6" r="1.1" fill="#EFAA35" fill-opacity="0.75"/>
<circle cx="66.5" cy="305.9" r="1.1" fill="#EFAA35" fill-opacity="0.75"/>
<circle cx="50.7" cy="303.4" r="1.1" fill="#EFAA35" fill-opacity="0.75"/>
<circle cx="51.4" cy="306.5" r="1.1" fill="#EFAA35" fill-opacity="0.75"/>
<circle cx="57" cy="305.9" r="1.1" fill="#EFAA35" fill-opacity="0.75"/>
<circle cx="65.9" cy="310.9" r="1.1" fill="#EFAA35" fill-opacity="0.75"/>
<circle cx="67.1" cy="312.2" r="1.1" fill="#EFAA35" fill-opacity="0.75"/>
<circle cx="60.2" cy="312.8" r="1.1" fill="#EFAA35" fill-opacity="0.75"/>
<circle cx="62.1" cy="311.6" r="1.1" fill="#EFAA35" fill-opacity="0.75"/>
<circle cx="50.1" cy="316" r="1.1" fill="#EFAA35" fill-opacity="0.75"/>
<circle cx="49.5" cy="319.1" r="1.1" fill="#EFAA35" fill-opacity="0.75"/>
<circle cx="53.9" cy="318.8" r="1.1" fill="#EFAA35" fill-opacity="0.75"/>
<circle cx="55.2" cy="317.6" r="1.1" fill="#EFAA35" fill-opacity="0.75"/>
<circle cx="57" cy="315.7" r="1.1" fill="#EFAA35" fill-opacity="0.75"/>
<circle cx="58.9" cy="314.4" r="1.1" fill="#EFAA35" fill-opacity="0.75"/>
<circle cx="60.8" cy="312.3" r="1.1" fill="#EFAA35" fill-opacity="0.75"/>
<circle cx="67.1" cy="311.9" r="1.1" fill="#EFAA35" fill-opacity="0.75"/>
<circle cx="67.5" cy="316" r="1.1" fill="#EFAA35" fill-opacity="0.75"/>
<circle cx="64" cy="318.2" r="1.1" fill="#EFAA35" fill-opacity="0.75"/>
<circle cx="60.2" cy="322.6" r="1.1" fill="#EFAA35" fill-opacity="0.75"/>
<circle cx="53.3" cy="327.6" r="1.1" fill="#EFAA35" fill-opacity="0.75"/>
<circle cx="65.2" cy="326.1" r="1.1" fill="#EFAA35" fill-opacity="0.75"/>
<circle cx="67.1" cy="330.2" r="1.1" fill="#EFAA35" fill-opacity="0.75"/>
<circle cx="67.7" cy="331.4" r="1.1" fill="#EFAA35" fill-opacity="0.75"/>
<circle cx="53.3" cy="335.2" r="1.1" fill="#EFAA35" fill-opacity="0.75"/>
<circle cx="62.1" cy="336.7" r="1.1" fill="#EFAA35" fill-opacity="0.75"/>
<circle cx="54.9" cy="339.6" r="1.1" fill="#EFAA35" fill-opacity="0.75"/>
<circle cx="63.3" cy="340.9" r="1.1" fill="#EFAA35" fill-opacity="0.75"/>
<circle cx="67.1" cy="339" r="1.1" fill="#EFAA35" fill-opacity="0.75"/>
<circle cx="67.1" cy="343" r="1.1" fill="#EFAA35" fill-opacity="0.75"/>
<circle cx="50.7" cy="343" r="1.1" fill="#EFAA35" fill-opacity="0.75"/>
<circle cx="52.6" cy="344.6" r="1.1" fill="#EFAA35" fill-opacity="0.75"/>
<circle cx="53.9" cy="345.3" r="1.1" fill="#EFAA35" fill-opacity="0.75"/>
<circle cx="60.8" cy="347.2" r="1.1" fill="#EFAA35" fill-opacity="0.75"/>
<circle cx="49.5" cy="351.6" r="1.1" fill="#EFAA35" fill-opacity="0.75"/>
<circle cx="52.6" cy="351.6" r="1.1" fill="#EFAA35" fill-opacity="0.75"/>
<circle cx="58.9" cy="351.6" r="1.1" fill="#EFAA35" fill-opacity="0.75"/>
<circle cx="97.6" cy="289.1" r="1.1" fill="#EFAA35" fill-opacity="0.75"/>
<circle cx="112.2" cy="286.5" r="1.1" fill="#EFAA35" fill-opacity="0.75"/>
<circle cx="113.7" cy="291.6" r="1.1" fill="#EFAA35" fill-opacity="0.75"/>
<circle cx="96.1" cy="293.1" r="1.1" fill="#EFAA35" fill-opacity="0.75"/>
<circle cx="98.1" cy="294.1" r="1.1" fill="#EFAA35" fill-opacity="0.75"/>
<circle cx="110.7" cy="292.1" r="1.1" fill="#EFAA35" fill-opacity="0.75"/>
<circle cx="108.7" cy="294.9" r="1.1" fill="#EFAA35" fill-opacity="0.75"/>
<circle cx="107.7" cy="298.6" r="1.1" fill="#EFAA35" fill-opacity="0.75"/>
<circle cx="107.2" cy="303" r="1.1" fill="#EFAA35" fill-opacity="0.75"/>
<circle cx="102.6" cy="305" r="1.1" fill="#EFAA35" fill-opacity="0.75"/>
<circle cx="106.2" cy="306.7" r="1.1" fill="#EFAA35" fill-opacity="0.75"/>
<circle cx="110.7" cy="307.7" r="1.1" fill="#EFAA35" fill-opacity="0.75"/>
<circle cx="100.6" cy="314.8" r="1.1" fill="#EFAA35" fill-opacity="0.75"/>
<circle cx="106.2" cy="313.2" r="1.1" fill="#EFAA35" fill-opacity="0.75"/>
<circle cx="108.2" cy="324.1" r="1.1" fill="#EFAA35" fill-opacity="0.75"/>
<circle cx="107.7" cy="335.4" r="1.1" fill="#EFAA35" fill-opacity="0.75"/>
<circle cx="103.7" cy="342.2" r="1.1" fill="#EFAA35" fill-opacity="0.75"/>
<circle cx="96.1" cy="351.3" r="1.1" fill="#EFAA35" fill-opacity="0.75"/>
<circle cx="155" cy="321.4" r="1.1" fill="#EFAA35" fill-opacity="0.75"/>
<circle cx="157" cy="347.8" r="1.1" fill="#EFAA35" fill-opacity="0.75"/>
<circle cx="59.2" cy="288.6" r="1.85" fill="#5596d2" fill-opacity="0.8"/>
<circle cx="59.9" cy="296.2" r="2.15" fill="#5596d2" fill-opacity="0.8"/>
<circle cx="64" cy="300.9" r="1.85" fill="#5596d2" fill-opacity="0.8"/>
<circle cx="55.4" cy="302.7" r="2.15" fill="#5596d2" fill-opacity="0.8"/>
<circle cx="60.8" cy="305.3" r="2.15" fill="#5596d2" fill-opacity="0.8"/>
<circle cx="52.4" cy="309" r="2.8" fill="#5596d2" fill-opacity="0.624" stroke="#5596d2" stroke-opacity="0.440" stroke-width="0.8"/>
<circle cx="56.2" cy="312.8" r="1.85" fill="#5596d2" fill-opacity="0.8"/>
<circle cx="63.7" cy="314.7" r="2.15" fill="#5596d2" fill-opacity="0.8"/>
<circle cx="65.2" cy="320.7" r="2.35" fill="#5596d2" fill-opacity="0.8"/>
<circle cx="58.3" cy="323.2" r="2.5" fill="#5596d2" fill-opacity="0.624" stroke="#5596d2" stroke-opacity="0.440" stroke-width="0.8"/>
<circle cx="49.5" cy="324.9" r="1.85" fill="#5596d2" fill-opacity="0.8"/>
<circle cx="58.3" cy="330.8" r="1.85" fill="#5596d2" fill-opacity="0.8"/>
<circle cx="49.5" cy="335.8" r="2.35" fill="#5596d2" fill-opacity="0.8"/>
<circle cx="52" cy="340.2" r="2.35" fill="#5596d2" fill-opacity="0.8"/>
<circle cx="57.4" cy="340.9" r="2.35" fill="#5596d2" fill-opacity="0.8"/>
<circle cx="63.7" cy="351.3" r="2.15" fill="#5596d2" fill-opacity="0.8"/>
<circle cx="108.7" cy="227.4" r="4.1" fill="#5596d2" fill-opacity="0.624" stroke="#5596d2" stroke-opacity="0.440" stroke-width="0.8"/>
<circle cx="97.1" cy="235.9" r="3.4" fill="#5596d2" fill-opacity="0.624" stroke="#5596d2" stroke-opacity="0.440" stroke-width="0.8"/>
<circle cx="111.4" cy="266.2" r="2.15" fill="#5596d2" fill-opacity="0.8"/>
<circle cx="96.4" cy="278.2" r="2.8" fill="#5596d2" fill-opacity="0.624" stroke="#5596d2" stroke-opacity="0.440" stroke-width="0.8"/>
<circle cx="111.7" cy="279.1" r="2.5" fill="#5596d2" fill-opacity="0.624" stroke="#5596d2" stroke-opacity="0.440" stroke-width="0.8"/>
<circle cx="95.9" cy="284.4" r="2.35" fill="#5596d2" fill-opacity="0.8"/>
<circle cx="110" cy="282.6" r="1.85" fill="#5596d2" fill-opacity="0.8"/>
<circle cx="102" cy="287" r="3.0" fill="#5596d2" fill-opacity="0.624" stroke="#5596d2" stroke-opacity="0.440" stroke-width="0.8"/>
<circle cx="96.6" cy="280.5" r="2.35" fill="#5596d2" fill-opacity="0.8"/>
<circle cx="101.9" cy="287.6" r="3.2" fill="#5596d2" fill-opacity="0.624" stroke="#5596d2" stroke-opacity="0.440" stroke-width="0.8"/>
<circle cx="105.7" cy="291.1" r="1.85" fill="#5596d2" fill-opacity="0.8"/>
<circle cx="111.2" cy="281" r="2.35" fill="#5596d2" fill-opacity="0.8"/>
<circle cx="113.7" cy="288.6" r="2.35" fill="#5596d2" fill-opacity="0.8"/>
<circle cx="113.7" cy="294.6" r="2.2" fill="#5596d2" fill-opacity="0.624" stroke="#5596d2" stroke-opacity="0.440" stroke-width="0.8"/>
<circle cx="104.6" cy="296.1" r="2.15" fill="#5596d2" fill-opacity="0.8"/>
<circle cx="102.6" cy="297.9" r="2.15" fill="#5596d2" fill-opacity="0.8"/>
<circle cx="97.1" cy="298.6" r="1.85" fill="#5596d2" fill-opacity="0.8"/>
<circle cx="113" cy="302.7" r="2.15" fill="#5596d2" fill-opacity="0.8"/>
<circle cx="96.1" cy="307" r="2.8" fill="#5596d2" fill-opacity="0.624" stroke="#5596d2" stroke-opacity="0.440" stroke-width="0.8"/>
<circle cx="107.7" cy="311.7" r="1.85" fill="#5596d2" fill-opacity="0.8"/>
<circle cx="96.6" cy="314.3" r="2.35" fill="#5596d2" fill-opacity="0.8"/>
<circle cx="99.1" cy="313.2" r="2.35" fill="#5596d2" fill-opacity="0.8"/>
<circle cx="100.1" cy="315.5" r="2.35" fill="#5596d2" fill-opacity="0.8"/>
<circle cx="104.6" cy="315.1" r="2.15" fill="#5596d2" fill-opacity="0.8"/>
<circle cx="95.8" cy="327.5" r="1.85" fill="#5596d2" fill-opacity="0.8"/>
<circle cx="106" cy="328.4" r="2.15" fill="#5596d2" fill-opacity="0.8"/>
<circle cx="110.5" cy="326.9" r="2.35" fill="#5596d2" fill-opacity="0.8"/>
<circle cx="98" cy="333.1" r="2.35" fill="#5596d2" fill-opacity="0.8"/>
<circle cx="103.7" cy="334.5" r="3.0" fill="#5596d2" fill-opacity="0.624" stroke="#5596d2" stroke-opacity="0.440" stroke-width="0.8"/>
<circle cx="96.3" cy="339.7" r="2.35" fill="#5596d2" fill-opacity="0.8"/>
<circle cx="109.7" cy="351.3" r="2.15" fill="#5596d2" fill-opacity="0.8"/>
<circle cx="150.6" cy="255.6" r="1.85" fill="#5596d2" fill-opacity="0.8"/>
<circle cx="143.9" cy="264.4" r="3.0" fill="#5596d2" fill-opacity="0.624" stroke="#5596d2" stroke-opacity="0.440" stroke-width="0.8"/>
<circle cx="151.4" cy="288.1" r="1.85" fill="#5596d2" fill-opacity="0.8"/>
<circle cx="158.3" cy="295" r="2.8" fill="#5596d2" fill-opacity="0.624" stroke="#5596d2" stroke-opacity="0.440" stroke-width="0.8"/>
<circle cx="159.2" cy="317.8" r="2.5" fill="#5596d2" fill-opacity="0.624" stroke="#5596d2" stroke-opacity="0.440" stroke-width="0.8"/>
<circle cx="160.3" cy="328.9" r="1.85" fill="#5596d2" fill-opacity="0.8"/>
<circle cx="157.8" cy="337.2" r="1.85" fill="#5596d2" fill-opacity="0.8"/>
<circle cx="148.6" cy="343.6" r="2.15" fill="#5596d2" fill-opacity="0.8"/>
<line x1="333.8" y1="205.3" x2="333.8" y2="362.8" stroke="#828282" stroke-width="1.7" />
<line x1="333" y1="362.4" x2="468" y2="362.4" stroke="#828282" stroke-width="1.7" />
<line x1="331.5" y1="360.2" x2="333.8" y2="360.2" stroke="#737373" stroke-width="1" />
<text transform="translate(331 363.2) scale(0.85 1)" font-size="8.4" fill="#4a4a4a" text-anchor="end">0.0</text>
<line x1="331.5" y1="326.825" x2="333.8" y2="326.825" stroke="#737373" stroke-width="1" />
<text transform="translate(331 329.825) scale(0.85 1)" font-size="8.4" fill="#4a4a4a" text-anchor="end">0.5</text>
<line x1="331.5" y1="293.45" x2="333.8" y2="293.45" stroke="#737373" stroke-width="1" />
<text transform="translate(331 296.45) scale(0.85 1)" font-size="8.4" fill="#4a4a4a" text-anchor="end">1.0</text>
<line x1="331.5" y1="260.075" x2="333.8" y2="260.075" stroke="#737373" stroke-width="1" />
<text transform="translate(331 263.075) scale(0.85 1)" font-size="8.4" fill="#4a4a4a" text-anchor="end">1.5</text>
<line x1="331.5" y1="226.7" x2="333.8" y2="226.7" stroke="#737373" stroke-width="1" />
<text transform="translate(331 229.7) scale(0.85 1)" font-size="8.4" fill="#4a4a4a" text-anchor="end">2.0</text>
<line x1="359.2" y1="362.4" x2="359.2" y2="364.5" stroke="#737373" stroke-width="1" />
<text transform="translate(359.2 371.4) scale(0.93 1)" font-size="8.8" fill="#4a4a4a" text-anchor="middle">HV</text>
<line x1="400.5" y1="362.4" x2="400.5" y2="364.5" stroke="#737373" stroke-width="1" />
<text transform="translate(400.5 371.4) scale(0.93 1)" font-size="8.8" fill="#4a4a4a" text-anchor="middle">Negative</text>
<line x1="442.3" y1="362.4" x2="442.3" y2="364.5" stroke="#737373" stroke-width="1" />
<text transform="translate(442.3 371.4) scale(0.93 1)" font-size="8.8" fill="#4a4a4a" text-anchor="middle">Positive</text>
<text x="316.7" y="284.2" font-size="10.1" fill="#111" text-anchor="middle" font-weight="normal" transform="rotate(-90 316.7 284.2)">40 - SNAI2</text>
<text x="400.8" y="382.2" font-size="9.9" fill="#111" text-anchor="middle" font-weight="normal">HER2</text>
<text x="403" y="392" font-size="9.2" fill="#111" text-anchor="middle" font-weight="bold">(c)</text>
<polyline points="400.2,223.1 400.2,220.1 442.8,220.1 442.8,223.1" fill="none" stroke="#737373" stroke-width="1"/>
<text x="421.5" y="218.3" font-size="6.9" fill="#333" text-anchor="middle" font-weight="normal">0.0015</text>
<line x1="343.4" y1="359.3" x2="374.6" y2="359.3" stroke="#222" stroke-width="1.2" />
<line x1="384.9" y1="359.3" x2="416.2" y2="359.3" stroke="#222" stroke-width="1.2" />
<line x1="426.7" y1="359.3" x2="458" y2="359.3" stroke="#222" stroke-width="1.2" />
<circle cx="397.6" cy="263.7" r="1" fill="#EFAA35" fill-opacity="0.8"/>
<circle cx="408.5" cy="294.4" r="1" fill="#EFAA35" fill-opacity="0.8"/>
<circle cx="409.2" cy="307.7" r="1" fill="#EFAA35" fill-opacity="0.8"/>
<circle cx="400.7" cy="225.1" r="2.9499999999999997" fill="#5b9bd5" fill-opacity="0.640" stroke="#5b9bd5" stroke-opacity="0.451" stroke-width="0.8"/>
<circle cx="407.2" cy="281" r="1.8" fill="#5b9bd5" fill-opacity="0.82"/>
<circle cx="395.6" cy="293.6" r="3.9499999999999997" fill="#5b9bd5" fill-opacity="0.640" stroke="#5b9bd5" stroke-opacity="0.451" stroke-width="0.8"/>
<circle cx="395.6" cy="311.5" r="2.1" fill="#5b9bd5" fill-opacity="0.82"/>
<circle cx="398.5" cy="313.4" r="2.3" fill="#5b9bd5" fill-opacity="0.82"/>
<circle cx="407.9" cy="320" r="2.7499999999999996" fill="#5b9bd5" fill-opacity="0.640" stroke="#5b9bd5" stroke-opacity="0.451" stroke-width="0.8"/>
<circle cx="355.3" cy="356.2" r="2.05" fill="#4C92D2" fill-opacity="0.663" stroke="#4C92D2" stroke-opacity="0.468" stroke-width="0.8"/>
<circle cx="351" cy="359.5" r="2.1" fill="#4C92D2" fill-opacity="0.85"/>
<circle cx="394.7" cy="356.4" r="2.85" fill="#4C92D2" fill-opacity="0.663" stroke="#4C92D2" stroke-opacity="0.468" stroke-width="0.8"/>
<circle cx="392.5" cy="359" r="2.25" fill="#4C92D2" fill-opacity="0.663" stroke="#4C92D2" stroke-opacity="0.468" stroke-width="0.8"/>
<circle cx="397.5" cy="358.5" r="2.25" fill="#4C92D2" fill-opacity="0.663" stroke="#4C92D2" stroke-opacity="0.468" stroke-width="0.8"/>
<circle cx="400.2" cy="357.5" r="2.4499999999999997" fill="#4C92D2" fill-opacity="0.663" stroke="#4C92D2" stroke-opacity="0.468" stroke-width="0.8"/>
<circle cx="403.1" cy="358.5" r="2.05" fill="#4C92D2" fill-opacity="0.663" stroke="#4C92D2" stroke-opacity="0.468" stroke-width="0.8"/>
<circle cx="407.5" cy="357.5" r="1.9" fill="#4C92D2" fill-opacity="0.85"/>
<circle cx="447.5" cy="357.1" r="2.9499999999999997" fill="#4C92D2" fill-opacity="0.663" stroke="#4C92D2" stroke-opacity="0.468" stroke-width="0.8"/>
<circle cx="445.3" cy="359" r="2.2" fill="#4C92D2" fill-opacity="0.85"/>
<circle cx="449.3" cy="359.5" r="2.15" fill="#4C92D2" fill-opacity="0.663" stroke="#4C92D2" stroke-opacity="0.468" stroke-width="0.8"/>
<circle cx="440.5" cy="360.5" r="1.5" fill="#4C92D2" fill-opacity="0.85"/>
<circle cx="352.5" cy="359" r="2.3" fill="#F0A52C" fill-opacity="0.9"/>
<circle cx="356" cy="359.6" r="2.3" fill="#F0A52C" fill-opacity="0.9"/>
<circle cx="359.5" cy="358.3" r="2.3" fill="#F0A52C" fill-opacity="0.9"/>
<circle cx="362.5" cy="359.2" r="2.3" fill="#F0A52C" fill-opacity="0.9"/>
<circle cx="365.8" cy="358.8" r="2.3" fill="#F0A52C" fill-opacity="0.9"/>
<circle cx="367.5" cy="359.6" r="1.8" fill="#F0A52C" fill-opacity="0.9"/>
<circle cx="405.3" cy="360" r="1.6" fill="#F0A52C" fill-opacity="0.9"/>
<circle cx="434" cy="357.8" r="1.6" fill="#F0A52C" fill-opacity="0.9"/>
<circle cx="435.5" cy="360.5" r="1.1" fill="#F0A52C" fill-opacity="0.9"/>
<text x="480.1" y="234.6" font-size="9.8" fill="#111" text-anchor="start" font-weight="normal">CTC Count</text>
<circle cx="483.1" cy="246.3" r="1.0" fill="#8c8c8c" fill-opacity="1.0"/>
<text x="493.2" y="249.10000000000002" font-size="7.8" fill="#222" text-anchor="start" font-weight="normal">0</text>
<circle cx="483.1" cy="256.3" r="2.2" fill="#8c8c8c" fill-opacity="1.0"/>
<text x="493.2" y="259.1" font-size="7.8" fill="#222" text-anchor="start" font-weight="normal">25</text>
<circle cx="483.1" cy="266.8" r="2.4499999999999997" fill="#8c8c8c" fill-opacity="0.780" stroke="#8c8c8c" stroke-opacity="0.550" stroke-width="0.8"/>
<text x="493.2" y="269.6" font-size="7.8" fill="#222" text-anchor="start" font-weight="normal">50</text>
<circle cx="483.1" cy="277.1" r="2.9499999999999997" fill="#8c8c8c" fill-opacity="0.780" stroke="#8c8c8c" stroke-opacity="0.550" stroke-width="0.8"/>
<text x="493.2" y="279.90000000000003" font-size="7.8" fill="#222" text-anchor="start" font-weight="normal">75</text>
<circle cx="483.1" cy="287.2" r="3.4499999999999997" fill="#8c8c8c" fill-opacity="0.780" stroke="#8c8c8c" stroke-opacity="0.550" stroke-width="0.8"/>
<text x="493.2" y="290.0" font-size="7.8" fill="#222" text-anchor="start" font-weight="normal">100</text>
<text x="478" y="315" font-size="9.8" fill="#111" text-anchor="start" font-weight="normal">CTC Status</text>
<circle cx="482.9" cy="326" r="1.3" fill="#EFAA35" fill-opacity="0.9"/>
<text x="493" y="329" font-size="7.8" fill="#222" text-anchor="start" font-weight="normal">NEG</text>
<circle cx="482.9" cy="336.1" r="1.3" fill="#5b9bd5" fill-opacity="0.9"/>
<text x="493" y="339.1" font-size="7.8" fill="#222" text-anchor="start" font-weight="normal">POS</text>
</svg>
</body></html>
